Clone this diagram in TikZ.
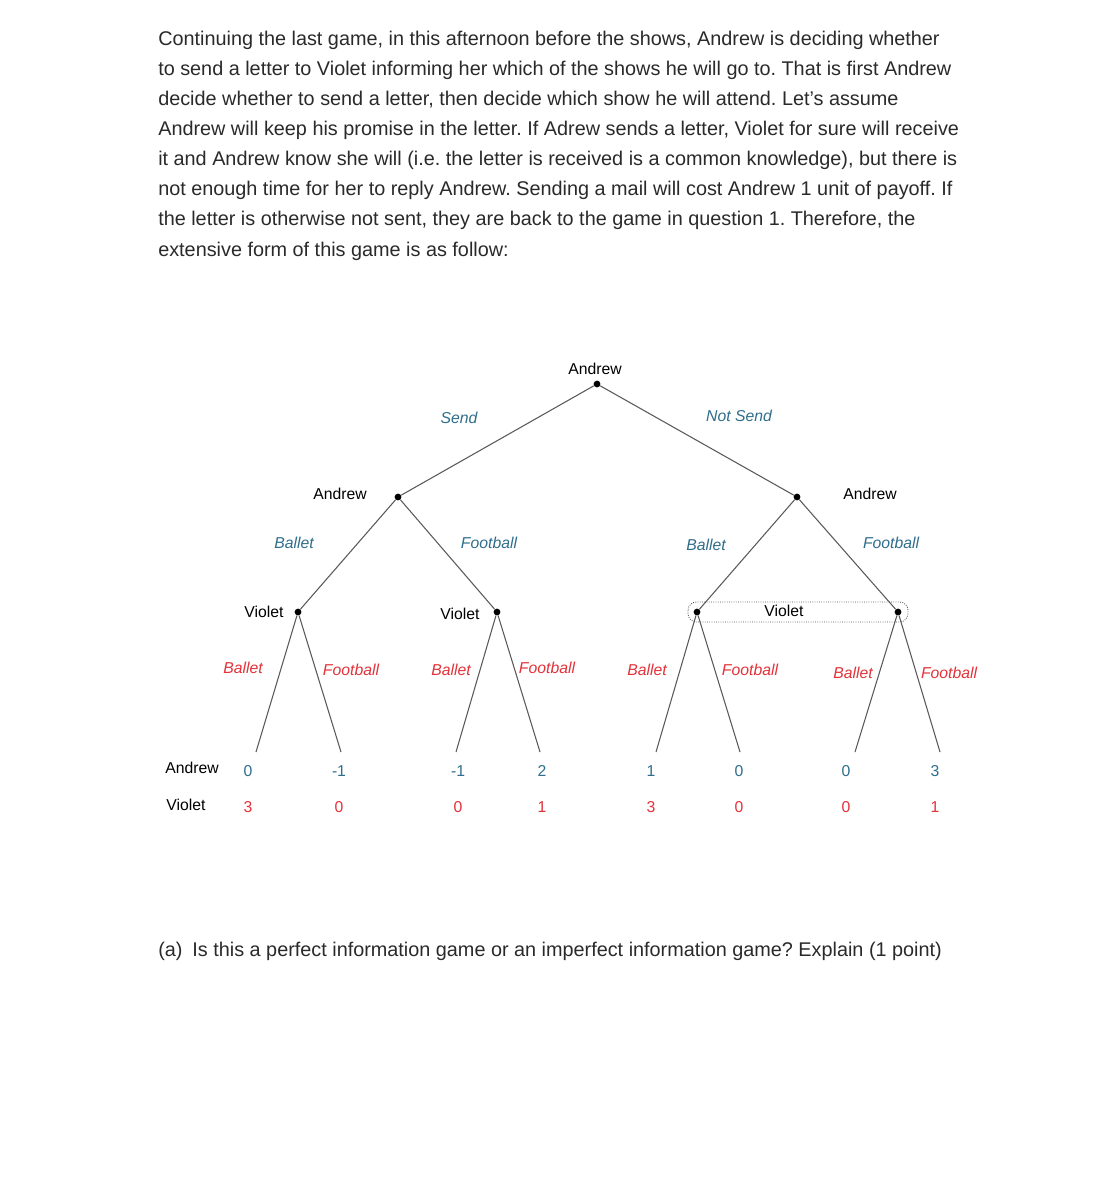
\documentclass[tikz,border=0pt]{standalone}
\usepackage{fontspec}
\setmainfont{Liberation Sans}
\usetikzlibrary{positioning}
\definecolor{actblue}{HTML}{2F6E8C}
\definecolor{actred}{HTML}{E3323A}
\definecolor{txtgray}{HTML}{2A2A2A}
\frenchspacing

\begin{document}
\begin{tikzpicture}[x=0.025cm,y=-0.025cm,
  every node/.style={inner sep=0pt,font=\fontsize{11.2}{13}\selectfont},
  para/.style={anchor=west,text=txtgray,font=\fontsize{14.1}{16}\selectfont},
  dot/.style={circle,fill=black,inner sep=0pt,minimum size=4.8pt},
  branch/.style={draw=black!65,line width=0.75pt},
  upper/.style={text=actblue,font=\fontsize{11.2}{13}\selectfont\itshape},
  lower/.style={text=actred,font=\fontsize{11.2}{13}\selectfont\itshape},
  payA/.style={text=actblue},
  payV/.style={text=actred}]
\fill[white] (0,0) rectangle (1104,1200);
\useasboundingbox (0,0) rectangle (1104,1200);

% text above the tree
\node[para] (l1) at (158,40) {Continuing the last game, in this afternoon before the shows, Andrew is deciding whether};
\node[para] (l2) at (158,70) {to send a letter to Violet informing her which of the shows he will go to. That is first Andrew};
\node[para] (l3) at (158,100) {decide whether to send a letter, then decide which show he will attend. Let's assume};
\node[para] (l4) at (158,130) {Andrew will keep his promise in the letter. If Adrew sends a letter, Violet for sure will receive};
\node[para] (l5) at (158,160) {it and Andrew know she will (i.e. the letter is received is a common knowledge), but there is};
\node[para] (l6) at (158,190) {not enough time for her to reply Andrew. Sending a mail will cost Andrew 1 unit of payoff. If};
\node[para] (l7) at (158,220) {the letter is otherwise not sent, they are back to the game in question 1. Therefore, the};
\node[para] (l8) at (158,251) {extensive form of this game is as follow:};

% decision nodes
\node[dot] (r) at (597,384) {};
\node[dot] (a1) at (398,497) {};
\node[dot] (a2) at (797,497) {};
\node[dot] (v1) at (298,612) {};
\node[dot] (v2) at (497,612) {};
\node[dot] (v3) at (697,612) {};
\node[dot] (v4) at (898,612) {};

% ends of the last branches
\coordinate (t1) at (256,752);
\coordinate (t2) at (341,752);
\coordinate (t3) at (456,752);
\coordinate (t4) at (540,752);
\coordinate (t5) at (656,752);
\coordinate (t6) at (740,752);
\coordinate (t7) at (855,752);
\coordinate (t8) at (940,752);

\draw[branch] (r) -- (a1);
\draw[branch] (r) -- (a2);
\draw[branch] (a1) -- (v1);
\draw[branch] (a1) -- (v2);
\draw[branch] (a2) -- (v3);
\draw[branch] (a2) -- (v4);
\draw[branch] (v1) -- (t1);
\draw[branch] (v1) -- (t2);
\draw[branch] (v2) -- (t3);
\draw[branch] (v2) -- (t4);
\draw[branch] (v3) -- (t5);
\draw[branch] (v3) -- (t6);
\draw[branch] (v4) -- (t7);
\draw[branch] (v4) -- (t8);

% information set of Violet
\draw[black!70,densely dotted,line width=0.6pt,rounded corners=6] (688,602) rectangle (908,622);

% players
\node (pr) at (595,369) {Andrew};
\node (pa1) at (340,494) {Andrew};
\node (pa2) at (870,494) {Andrew};
\node (pv1) at (264,612) {Violet};
\node (pv2) at (460,614) {Violet};
\node (pv3) at (784,611) {Violet};

% actions
\node[upper] (send) at (459,418) {Send};
\node[upper] (nsend) at (739,416) {Not Send};
\node[upper] (b1) at (294,543) {Ballet};
\node[upper] (f1) at (489,543) {Football};
\node[upper] (b2) at (706,545) {Ballet};
\node[upper] (f2) at (891,543) {Football};

\node[lower] (vb1) at (243,668) {Ballet};
\node[lower] (vf1) at (351,670) {Football};
\node[lower] (vb2) at (451,670) {Ballet};
\node[lower] (vf2) at (547,668) {Football};
\node[lower] (vb3) at (647,670) {Ballet};
\node[lower] (vf3) at (750,670) {Football};
\node[lower] (vb4) at (853,673) {Ballet};
\node[lower] (vf4) at (949,673) {Football};

% payoffs
\node (rowa) at (192,768) {Andrew};
\node (rowv) at (186,805) {Violet};
\foreach \x/\a/\v [count=\i] in {248/0/3,339/-1/0,458/-1/0,542/2/1,651/1/3,739/0/0,846/0/0,935/3/1}{
  \node[payA] (pa\i) at (\x,771) {\a};
  \node[payV] (pv\i) at (\x,807) {\v};
}

\node[para] (qa) at (158,951) {(a)\enspace Is this a perfect information game or an imperfect information game? Explain (1 point)};
\end{tikzpicture}
\end{document}
